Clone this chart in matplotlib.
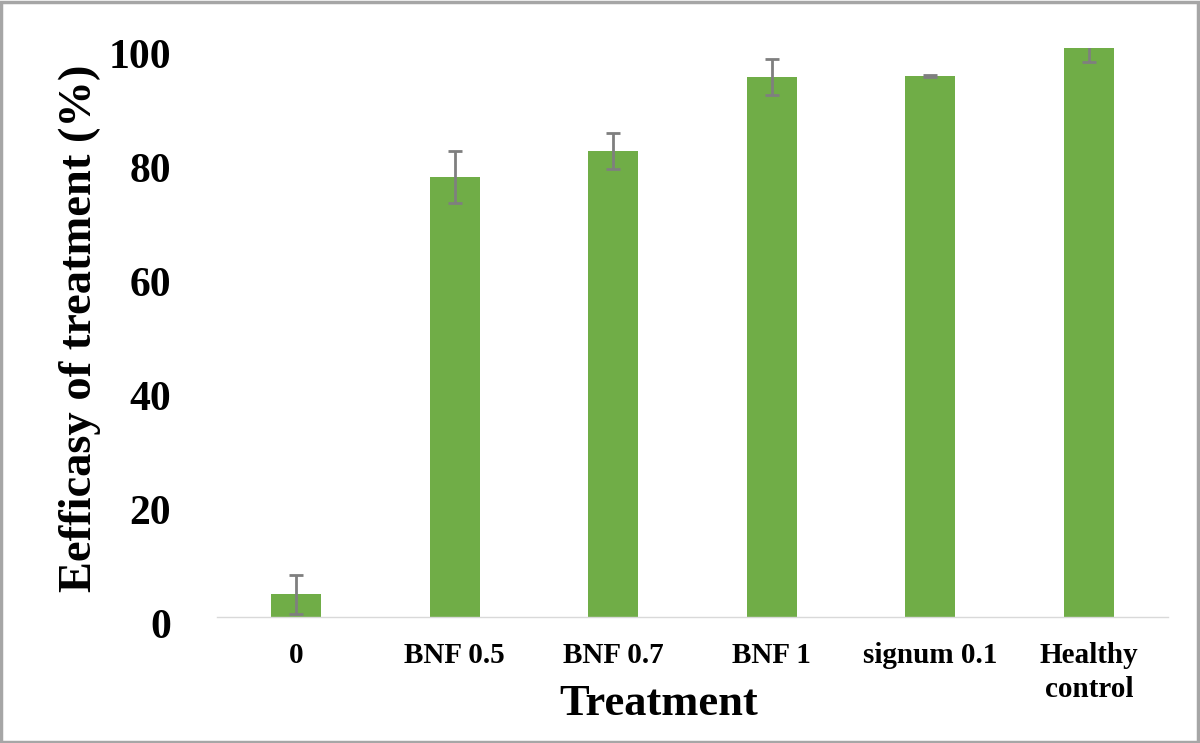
import matplotlib
matplotlib.use("Agg")
import matplotlib.pyplot as plt
from matplotlib.patches import Rectangle
from matplotlib.transforms import ScaledTranslation

categories = ["0", "BNF 0.5", "BNF 0.7", "BNF 1", "signum 0.1", "Healthy\ncontrol"]
values = [4.0, 77.3, 81.8, 94.8, 95.0, 100.0]
errors = [3.4, 4.6, 3.1, 3.1, 0.2, 2.5]
yticks = [0, 20, 40, 60, 80, 100]

plt.rcParams['font.family'] = ['Liberation Serif', 'DejaVu Serif']
plt.rcParams['font.weight'] = 'bold'

fig = plt.figure(figsize=(12, 7.43), dpi=100)
ax = fig.add_axes([217/1200, 1-617/743, (1168-217)/1200, (617-47.5)/743])

x = list(range(len(categories)))
ax.bar(x, values, width=0.316, color='#70AD47', zorder=2)
ax.errorbar(x, values, yerr=errors, fmt='none', ecolor='#7F7F7F', elinewidth=2,
            capsize=4.8, capthick=2, zorder=3, clip_on=True)

ax.set_xlim(-0.5, len(categories) - 0.5)
ax.set_ylim(0, 100)
ax.set_yticks(yticks)
ax.set_yticklabels([str(t) for t in yticks], fontsize=30, fontweight='bold')
ax.set_xticks(x)
ax.set_xticklabels(categories, fontsize=21, fontweight='bold', linespacing=1.35)
ax.tick_params(axis='y', length=0, pad=33)
ax.tick_params(axis='x', length=0, pad=18)
off = ScaledTranslation(0, -6/100, fig.dpi_scale_trans)
for lab in ax.get_yticklabels():
    lab.set_transform(lab.get_transform() + off)
for s in ['top', 'right', 'left']:
    ax.spines[s].set_visible(False)
ax.spines['bottom'].set_color('#D9D9D9')
ax.spines['bottom'].set_linewidth(1)

fig.text(80/1200, 1-328/743, "Eefficasy of treatment (%)", rotation=90,
         ha='center', va='center', fontsize=33.5, fontweight='bold')
fig.text(659/1200, 1-704/743, "Treatment", ha='center', va='center',
         fontsize=32, fontweight='bold')

fig.patches.append(Rectangle((0.001, 0.002), 0.997, 0.995, transform=fig.transFigure,
                             fill=False, edgecolor='#A6A6A6', linewidth=2.5))

fig.savefig("out.png", dpi=100)
